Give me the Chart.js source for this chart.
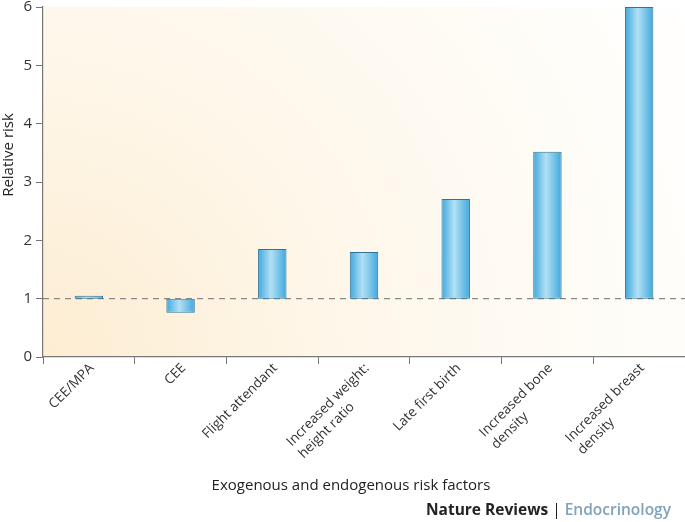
<!DOCTYPE html>
<html>
<head>
<meta charset="utf-8">
<script src="https://cdn.jsdelivr.net/npm/chart.js@4/dist/chart.umd.min.js"></script>
<style>
	html, body { margin: 0; padding: 0; background: #fff; }
	#wrap { position: relative; width: 685px; height: 522px; }
	#footer { position: absolute; right: 14px; bottom: 2px; font-family: 'Open Sans', sans-serif; font-size: 15.5px; color: #222; }
	#footer b { font-weight: 700; }
	#footer span { color: #7fa2bd; font-weight: 600; }
</style>
</head>
<body>
<div id="wrap">
	<canvas id="myChart" width="685" height="522"></canvas>
	<div id="footer"><b>Nature Reviews</b> | <span>Endocrinology</span></div>
</div>
<script>
const categories = [
	['CEE/MPA'],
	['CEE'],
	['Flight attendant'],
	['Increased weight:', 'height ratio'],
	['Late first birth'],
	['Increased bone', 'density'],
	['Increased breast', 'density']
]
const baseline = 1
const relativeRisk = [1.05, 0.76, 1.85, 1.8, 2.71, 3.52, 6.0]
const yTicks = [0, 1, 2, 3, 4, 5, 6]
const xTitle = 'Exogenous and endogenous risk factors'
const yTitle = 'Relative risk'

const barPct = 0.31
const font = 'Open Sans'

function barFill(ctx) {
	const chart = ctx.chart
	const xs = chart.scales.x
	if (!xs || !chart.chartArea) return '#6cc3ea'
	const cx = xs.getPixelForValue(ctx.dataIndex)
	const w = (xs.width / categories.length) * barPct
	const g = chart.ctx.createLinearGradient(cx - w / 2, 0, cx + w / 2, 0)
	g.addColorStop(0, '#3fa8dc')
	g.addColorStop(0.45, '#b3e0f5')
	g.addColorStop(1, '#3fa8dc')
	return g
}

const bgPlugin = {
	id: 'bg',
	beforeDraw(chart) {
		const { ctx, chartArea: a } = chart
		const g = ctx.createRadialGradient(a.left, a.bottom, 0, a.left, a.bottom, 760)
		g.addColorStop(0, '#fdedd2')
		g.addColorStop(0.4, '#fef7ea')
		g.addColorStop(0.8, '#fffdf9')
		g.addColorStop(1, '#ffffff')
		ctx.save()
		ctx.fillStyle = g
		ctx.fillRect(a.left, a.top, a.right - a.left, a.bottom - a.top)
		ctx.restore()
	}
}

const refLine = {
	id: 'refLine',
	beforeDatasetsDraw(chart) {
		const { ctx, chartArea: a } = chart
		const y = chart.scales.y.getPixelForValue(baseline)
		ctx.save()
		ctx.strokeStyle = '#8a8a8a'
		ctx.lineWidth = 1.3
		ctx.setLineDash([6, 5])
		ctx.beginPath()
		ctx.moveTo(a.left, y)
		ctx.lineTo(a.right, y)
		ctx.stroke()
		ctx.restore()
	}
}

// rotated category labels: first line ends at the tick, later lines start under the first line
const labelPlugin = {
	id: 'labels',
	afterDraw(chart) {
		const { ctx, chartArea: a } = chart
		const xs = chart.scales.x
		const ys = chart.scales.y
		ctx.save()
		ctx.fillStyle = '#333'
		ctx.font = '13.5px "' + font + '"'
		ctx.textBaseline = 'middle'
		categories.forEach((lines, i) => {
			const cx = xs.getPixelForValue(i)
			ctx.save()
			ctx.translate(cx + 3, a.bottom + 9)
			ctx.rotate(-Math.PI / 4)
			const w0 = ctx.measureText(lines[0]).width
			lines.forEach((t, k) => {
				ctx.textAlign = 'left'
				ctx.fillText(t, -w0, k * 17)
			})
			ctx.restore()
		})
		// y tick labels
		ctx.font = '15px "' + font + '"'
		ctx.textAlign = 'right'
		yTicks.forEach(v => {
			ctx.fillText(String(v), a.left - 11, ys.getPixelForValue(v))
		})
		ctx.fillStyle = '#222'
		ctx.textAlign = 'center'
		ctx.fillText(xTitle, 351, 486)
		ctx.save()
		ctx.translate(9, 155)
		ctx.rotate(-Math.PI / 2)
		ctx.fillText(yTitle, 0, 0)
		ctx.restore()
		ctx.restore()
	}
}

function getChart() {
	const context = document.getElementById('myChart')
	const data = {
		labels: categories,
		datasets: [
			{
				label: yTitle,
				data: relativeRisk.map(v => [baseline, v]),
				backgroundColor: barFill,
				borderColor: '#2f7496',
				borderWidth: 1,
				borderSkipped: false,
				barPercentage: barPct,
				categoryPercentage: 1,
			}
		]
	}
	const config = {
		type: 'bar',
		data: data,
		options: {
			responsive: false,
			animation: false,
			layout: { padding: { top: 7, right: 0, bottom: 26, left: 0 } },
			plugins: { legend: { display: false }, tooltip: { enabled: false } },
			scales: {
				x: {
					grid: { offset: true, drawOnChartArea: false, drawTicks: true, tickLength: 7, color: '#777' },
					border: { color: '#777', width: 1.2 },
					ticks: { display: false },
					afterFit(scale) { scale.height = 139 }
				},
				y: {
					min: 0, max: 6,
					afterBuildTicks(scale) { scale.ticks = yTicks.map(v => ({ value: v })) },
					grid: { drawOnChartArea: false, drawTicks: true, tickLength: 7, color: '#777' },
					border: { color: '#777', width: 1.2 },
					ticks: { display: false },
					afterFit(scale) { scale.width = 43 }
				}
			}
		},
		plugins: [bgPlugin, refLine, labelPlugin]
	}
	const myChart = new Chart(context, config)
}
getChart()
</script>
</body>
</html>
